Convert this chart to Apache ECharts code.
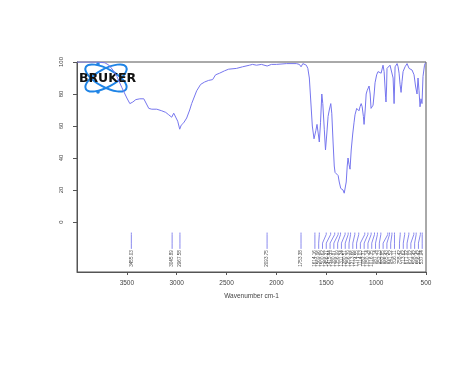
<!DOCTYPE html>
<html>
<head>
<meta charset="utf-8">
<script src="https://cdn.jsdelivr.net/npm/echarts@6/dist/echarts.min.js"></script>
<style>
html, body { margin: 0; padding: 0; background: #fff; }
#irBox { width: 474px; height: 366px; }
</style>
</head>
<body>
<div id="irBox"></div>
<script>
// spectrum: wavenumber (cm-1) and transmittance (%)
var wavenumbers = [4000, 3900, 3800, 3720, 3680, 3640, 3600, 3550, 3500, 3470, 3440, 3410, 3370, 3330, 3310, 3280, 3250, 3200, 3150, 3110,
    3080, 3050, 3030, 3010, 2990, 2970, 2955, 2930, 2900, 2870, 2850, 2800, 2760, 2720, 2680, 2640, 2610, 2570, 2520, 2480,
    2400, 2340, 2270, 2240, 2200, 2150, 2093, 2050, 2000, 1900, 1800, 1770, 1753, 1735, 1700, 1685, 1670, 1655, 1640, 1623,
    1605, 1593, 1580, 1570, 1558, 1545, 1535, 1520, 1508, 1495, 1482, 1470, 1455, 1445, 1432, 1420, 1412, 1395, 1381, 1370,
    1355, 1345, 1332, 1320, 1312, 1300, 1290, 1282, 1272, 1262, 1250, 1235, 1222, 1212, 1195, 1182, 1172, 1162, 1150, 1140,
    1128, 1121, 1110, 1100, 1091, 1071, 1060, 1051, 1040, 1031, 1020, 1011, 995, 981, 961, 950, 941, 931, 920, 905,
    901, 895, 891, 875, 861, 841, 830, 820, 815, 810, 790, 780, 770, 760, 750, 740, 730, 710, 690, 670,
    640, 620, 605, 590, 580, 570, 560, 550, 540, 530, 515, 505, 500];
var transmittance = [100, 100, 100, 99.5, 98, 95, 91, 84, 77.5, 74, 75, 76.5, 77, 77, 76, 71, 70.5, 70.5, 69.5, 68.5,
    67, 65.5, 68, 67, 63, 58, 60.5, 62, 65, 70, 74, 82, 86, 87.5, 88.5, 89, 92, 93, 94.5, 95.5,
    96, 97, 98, 98.5, 98, 98.5, 97.5, 98.5, 98.5, 99, 99, 98.5, 97, 99, 98, 96, 90, 75, 60, 52,
    57, 61, 55, 50, 62, 80, 74, 58, 45, 55, 66, 70, 74, 68, 50, 35, 31, 30, 29, 25,
    21, 20.5, 20, 18, 17.5, 25, 35, 40, 36, 33, 45, 55, 62, 67, 71, 72, 69.5, 72, 74, 72,
    66, 61, 70, 80, 82, 85, 80, 71, 72, 73, 80, 87, 92, 94, 95, 93, 92, 98, 94, 78,
    75, 85, 96, 97, 98, 99, 90, 74, 85, 97, 99, 97, 93, 86, 81, 88, 94, 97, 99, 96,
    95, 92, 85, 80, 90, 82, 72, 77, 74, 91, 98, 99.5, 99.5];

// picked peaks
var peakList = [3455.03, 3045.89, 2967.58, 2093.75, 1753.38, 1614.16, 1569.96, 1500.62, 1456.27, 1415.44,
    1380.87, 1356.99, 1311.24, 1280.51, 1256.39, 1213.66, 1174.55, 1114.03, 1082.31, 1050.14,
    1016.35, 987.14, 952.73, 882.85, 865.43, 841.52, 816.11, 758.42, 713.62, 671.92,
    621.92, 598.42, 556.42, 537.94];

var xTicks = [500, 1000, 1500, 2000, 2500, 3000, 3500];
var yTicks = [0, 20, 40, 60, 80, 100];

function initIR() {
    var specData = [];
    for (var i = 0; i < wavenumbers.length; i++) {
        specData.push([wavenumbers[i], transmittance[i]]);
    }
    // spread the peak labels so they do not overlap (pushed left from the right end)
    var gap = 38;
    var labelPos = [];
    for (var k = peakList.length - 1; k >= 0; k--) {
        var pos = peakList[k];
        if (k < peakList.length - 1 && pos < labelPos[k + 1] + gap) {
            pos = labelPos[k + 1] + gap;
        }
        labelPos[k] = pos;
    }
    var peakData = [];
    for (var j = 0; j < peakList.length; j++) {
        peakData.push([peakList[j], labelPos[j]]);
    }
    loadIR(specData, peakData);
}

function loadIR(specData, peakData) {
    var myChart_ir = echarts.init(document.getElementById('irBox'));
    var axisColor = '#555';
    var textColor = '#444';
    var font = 'Liberation Sans';

    var option_ir = {
        animation: false,
        grid: {
            left: 77,
            right: 48,
            top: 62,
            bottom: 94,
            show: true,
            borderColor: axisColor,
            borderWidth: 1
        },
        xAxis: {
            type: 'value',
            min: 500,
            max: 4000,
            inverse: true,
            name: 'Wavenumber cm-1',
            nameLocation: 'middle',
            nameGap: 21,
            nameTextStyle: { fontSize: 6.5, color: textColor, fontFamily: font },
            axisLine: { onZero: false, lineStyle: { color: axisColor, width: 1 } },
            axisTick: { customValues: xTicks, length: 3, lineStyle: { color: axisColor } },
            axisLabel: {
                customValues: xTicks, fontSize: 6.5, color: textColor, fontFamily: font, margin: 8,
                formatter: function (v) { return String(v); }
            },
            splitLine: { show: false }
        },
        yAxis: {
            type: 'value',
            min: -31.25,
            max: 100,
            axisLine: { show: true, onZero: false, lineStyle: { color: axisColor, width: 1 } },
            axisTick: { show: true, customValues: yTicks, length: 4, lineStyle: { color: axisColor } },
            axisLabel: { customValues: yTicks, rotate: 90, fontSize: 6, color: textColor, fontFamily: font, margin: 13 },
            splitLine: { show: false }
        },
        series: [
            {
                name: 'spectrum',
                type: 'line',
                data: specData,
                showSymbol: false,
                lineStyle: { color: '#7676ee', width: 1 },
                z: 3
            },
            {
                name: 'peaks',
                type: 'custom',
                data: peakData,
                encode: { x: 0 },
                renderItem: function (params, api) {
                    var i = params.dataIndex;
                    var p0 = api.coord([api.value(0), -6.6]);
                    var p1 = api.coord([api.value(0), -7.8]);
                    var p2 = api.coord([api.value(1), -13.2]);
                    var p3 = api.coord([api.value(1), -16.8]);
                    var t = api.coord([api.value(1), -17.6]);
                    return {
                        type: 'group',
                        children: [
                            {
                                type: 'polyline',
                                shape: { points: [p0, p1, p2, p3] },
                                style: { stroke: '#8a8aee', fill: null, lineWidth: 1 }
                            },
                            {
                                type: 'text',
                                x: t[0],
                                y: t[1],
                                rotation: Math.PI / 2,
                                style: {
                                    text: peakList[i].toFixed(2),
                                    fontSize: 4.6,
                                    fontFamily: font,
                                    fill: textColor,
                                    align: 'right',
                                    verticalAlign: 'middle'
                                }
                            }
                        ]
                    };
                }
            }
        ],
        graphic: [
            {
                type: 'group',
                z: 100,
                children: [
                    { type: 'ellipse', x: 106, y: 78, rotation: 0.5, shape: { cx: 0, cy: 0, rx: 23, ry: 9 }, style: { fill: null, stroke: '#1f84e6', lineWidth: 2 } },
                    { type: 'ellipse', x: 106, y: 78, rotation: -0.5, shape: { cx: 0, cy: 0, rx: 23, ry: 9 }, style: { fill: null, stroke: '#1f84e6', lineWidth: 2 } },
                    { type: 'circle', shape: { cx: 98, cy: 64, r: 1.8 }, style: { fill: '#1f84e6' } },
                    { type: 'circle', shape: { cx: 98, cy: 92, r: 1.8 }, style: { fill: '#1f84e6' } },
                    {
                        type: 'text', x: 107.5, y: 79,
                        style: { text: 'BRUKER', fontSize: 12.5, fontWeight: 'bold', fontFamily: 'DejaVu Sans', fill: '#111', align: 'center', verticalAlign: 'middle' }
                    }
                ]
            }
        ]
    };
    myChart_ir.setOption(option_ir);
}

initIR();
</script>
</body>
</html>
